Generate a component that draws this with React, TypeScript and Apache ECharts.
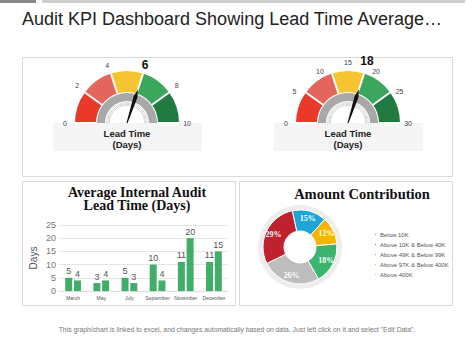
import React, { useEffect, useRef } from "react";
import * as echarts from "echarts";

// ---------- data ----------
const gaugeBandColors = ["#e8392b", "#e3655b", "#f6c430", "#3ba65c", "#217a40"];
const gauge1Value = 6;
const gauge1Max = 10;
const gauge1LabelSplits = 5;
const gauge2Value = 18;
const gauge2Max = 30;
const gauge2LabelSplits = 6;

const months = ["March", "May", "July", "September", "November", "December"];
const seriesA = [5, 3, 5, 10, 11, 11];
const seriesB = [4, 4, 3, 4, 20, 15];
const yTicks = { min: 0, max: 25, interval: 5 };

// pie slices in clockwise order
const pieNames = ["Below 10K", "Above 97K & Below 400K", "Above 49K & Below 99K", "Above 400K", "Above 10K & Below 40K"];
const pieValues = [15, 12, 18, 26, 29];
const pieColors = ["#1ea5d5", "#f5b400", "#3db46d", "#bdbdbd", "#c0212e"];
const legendOrder = ["Below 10K", "Above 10K & Below 40K", "Above 49K & Below 99K", "Above 97K & Below 400K", "Above 400K"];

const titleText = "Audit KPI Dashboard Showing Lead Time Average…";
const footerText =
  'This graph/chart is linked to excel, and changes automatically based on data. Just left click on it and select "Edit Data".';

const NEEDLE = "path://M4,0 L8,22 L5,100 L3,100 L0,22 Z";

function gaugeSet(center: number[], max: number, value: number, labelSplits: number, hideTick: number | null, valueOffset: number[]) {
  const base = {
    type: "gauge",
    center,
    startAngle: 180,
    endAngle: 0,
    min: 0,
    max,
    silent: true,
    title: { show: false },
  };
  const bandStops = gaugeBandColors.map((c, i) => [(i + 1) / gaugeBandColors.length, c]);
  return [
    {
      ...base,
      radius: 52,
      splitNumber: gaugeBandColors.length,
      axisLine: { lineStyle: { width: 21, color: bandStops } },
      splitLine: { show: true, length: 21, distance: -21, lineStyle: { color: "#fff", width: 2 } },
      axisTick: { show: false },
      axisLabel: { show: false },
      pointer: { show: false },
      detail: { show: false },
      data: [{ value }],
    },
    {
      ...base,
      radius: 30,
      splitNumber: 10,
      axisLine: { lineStyle: { width: 8, color: [[1, "#a8a8a8"]] } },
      splitLine: { show: false },
      axisTick: { show: true, splitNumber: 4, length: 4, distance: 1, lineStyle: { color: "#d8d8d8", width: 1 } },
      axisLabel: { show: false },
      pointer: { show: false },
      detail: { show: false },
      data: [{ value }],
    },
    {
      ...base,
      radius: 52,
      splitNumber: labelSplits,
      axisLine: { show: false, lineStyle: { width: 0 } },
      splitLine: { show: false, length: 0, distance: 0 },
      axisTick: { show: false },
      axisLabel: {
        show: true,
        distance: -12,
        fontSize: 7,
        color: "#444",
        fontFamily: "Liberation Sans",
        formatter: (v: number) => (hideTick !== null && v === hideTick ? "" : String(v)),
      },
      pointer: { show: true, icon: NEEDLE, length: "68%", width: 4, itemStyle: { color: "#111" } },
      anchor: { show: false },
      detail: {
        show: true,
        offsetCenter: valueOffset,
        fontSize: 12,
        fontWeight: "bold",
        color: "#111",
        fontFamily: "Liberation Sans",
        formatter: "{value}",
        valueAnimation: false,
      },
      data: [{ value }],
    },
  ];
}

export default function App() {
  const ref = useRef<HTMLDivElement>(null);
  useEffect(() => {
    if (!ref.current) return;
    const chart = echarts.init(ref.current, undefined, { renderer: "svg" });
    const panel = (x: number, y: number, w: number, h: number) => ({
      type: "rect",
      shape: { x: x + 0.5, y: y + 0.5, width: w, height: h },
      style: { fill: "none", stroke: "#d9d9d9", lineWidth: 1 },
      z: -10,
    });
    const leadLabel = (cx: number) => [
      {
        type: "rect",
        shape: { x: cx - 74, y: 123, width: 149, height: 28 },
        style: { fill: "#f5f5f5" },
        z: -5,
      },
      {
        type: "text",
        x: cx,
        y: 133.5,
        style: { text: "Lead Time", fontSize: 9.5, fontWeight: "bold", fontFamily: "Liberation Sans", fill: "#222", textAlign: "center", textVerticalAlign: "middle" },
      },
      {
        type: "text",
        x: cx,
        y: 144,
        style: { text: "(Days)", fontSize: 9.5, fontWeight: "bold", fontFamily: "Liberation Sans", fill: "#222", textAlign: "center", textVerticalAlign: "middle" },
      },
    ];
    const option: any = {
      animation: false,
      grid: { left: 59, right: 246, top: 225, bottom: 60 },
      xAxis: {
        type: "category",
        data: months,
        axisLine: { lineStyle: { color: "#dcdcdc" } },
        axisTick: { show: false },
        axisLabel: { fontSize: 5, color: "#555", margin: 4, fontFamily: "Liberation Sans", interval: 0 },
      },
      yAxis: {
        type: "value",
        min: yTicks.min,
        max: yTicks.max,
        interval: yTicks.interval,
        axisLine: { show: false },
        axisTick: { show: false },
        axisLabel: { fontSize: 9, color: "#777", margin: 3, fontFamily: "Liberation Sans" },
        splitLine: { lineStyle: { color: "#e6e6e6" } },
        name: "Days",
        nameLocation: "middle",
        nameGap: 21,
        nameTextStyle: { fontSize: 10, color: "#555", fontFamily: "Liberation Sans" },
      },
      legend: {
        data: legendOrder,
        orient: "vertical",
        left: 368,
        top: 226,
        icon: "circle",
        itemWidth: 3,
        itemHeight: 3,
        itemGap: 3,
        selectedMode: false,
        textStyle: { fontSize: 6, lineHeight: 7, color: "#555", fontFamily: "Liberation Sans", padding: [0, 0, 0, -2] },
      },
      series: [
        ...gaugeSet([127, 123], gauge1Max, gauge1Value, gauge1LabelSplits, gauge1Value, [18, -58]),
        ...gaugeSet([348, 123], gauge2Max, gauge2Value, gauge2LabelSplits, null, [19, -62]),
        {
          type: "bar",
          name: "Series 1",
          data: seriesA,
          barWidth: 7,
          barGap: "25%",
          itemStyle: { color: "#41ad69" },
          label: { show: true, position: "top", distance: 2, fontSize: 9, color: "#555", fontFamily: "Liberation Sans" },
        },
        {
          type: "bar",
          name: "Series 2",
          data: seriesB,
          barWidth: 7,
          barGap: "25%",
          itemStyle: { color: "#41ad69" },
          label: { show: true, position: "top", distance: 2, fontSize: 9, color: "#555", fontFamily: "Liberation Sans" },
        },
        {
          type: "pie",
          center: [300, 247],
          radius: [33, 42],
          silent: true,
          label: { show: false },
          labelLine: { show: false },
          itemStyle: { color: "#eeeeee" },
          data: [{ value: 1, name: "ring" }],
          z: 1,
        },
        {
          type: "pie",
          center: [300, 247],
          radius: [16, 37],
          startAngle: 102,
          clockwise: true,
          silent: true,
          itemStyle: { borderColor: "#fff", borderWidth: 1 },
          label: {
            show: true,
            position: "inside",
            formatter: "{c}%",
            color: "#fff",
            fontSize: 8,
            fontWeight: "bold",
            fontFamily: "Liberation Serif",
          },
          labelLine: { show: false },
          data: pieNames.map((n, i) => ({ name: n, value: pieValues[i], itemStyle: { color: pieColors[i] } })),
          z: 2,
        },
      ],
      graphic: [
        { type: "rect", shape: { x: 0, y: 0, width: 36, height: 3 }, style: { fill: "#8a8a8a" } },
        { type: "rect", shape: { x: 42, y: 0, width: 423, height: 3 }, style: { fill: "#cfcfcf" } },
        {
          type: "text",
          x: 22,
          y: 19,
          style: { text: titleText, fontSize: 18, fontFamily: "Liberation Sans", fill: "#222", textVerticalAlign: "middle" },
        },
        panel(22, 57, 430, 119),
        panel(22, 181, 213, 124),
        panel(239, 181, 213, 124),
        ...leadLabel(127),
        ...leadLabel(348),
        {
          type: "text",
          x: 137,
          y: 199,
          style: {
            text: "Average Internal Audit\nLead Time (Days)",
            fontSize: 14,
            lineHeight: 13.5,
            fontWeight: "bold",
            fontFamily: "Liberation Serif",
            fill: "#111",
            textAlign: "center",
            textVerticalAlign: "middle",
          },
        },
        {
          type: "text",
          x: 362,
          y: 194,
          style: {
            text: "Amount Contribution",
            fontSize: 14.5,
            fontWeight: "bold",
            fontFamily: "Liberation Serif",
            fill: "#111",
            textAlign: "center",
            textVerticalAlign: "middle",
          },
        },
        {
          type: "text",
          x: 237,
          y: 329,
          style: { text: footerText, fontSize: 6.8, fontFamily: "Liberation Sans", fill: "#777", textAlign: "center", textVerticalAlign: "middle" },
        },
      ],
    };
    chart.setOption(option);
    return () => chart.dispose();
  }, []);
  return (
    <div
      ref={ref}
      style={{ position: "fixed", left: 0, top: 0, width: 474, height: 351, background: "#fff" }}
    />
  );
}
